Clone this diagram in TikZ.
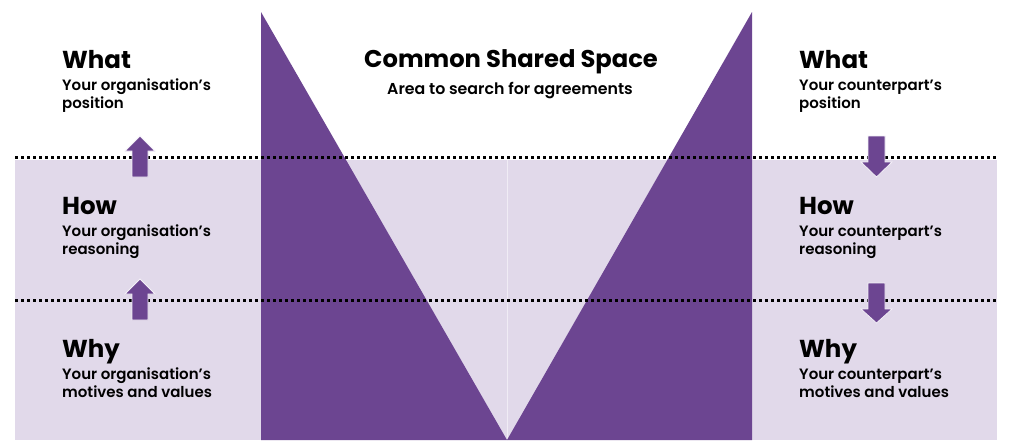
\documentclass[tikz,border=0pt]{standalone}
\usepackage{fontspec}
\setmainfont{Poppins}
\newfontfamily\subfont{Poppins SemiBold}
\definecolor{dpurple}{HTML}{6C4591}
\definecolor{lpurple}{HTML}{E1D9EA}
\begin{document}
\begin{tikzpicture}[x=1pt,y=-1pt,
  head/.style={anchor=base west,inner sep=0pt,font=\fontsize{24.5}{25}\selectfont\bfseries},
  sub/.style={anchor=base west,inner sep=0pt,font=\fontsize{15}{18}\subfont},
  dots/.style={line width=3pt,dash pattern=on 3pt off 3pt},
  blockarrow/.style={fill=dpurple,draw=lpurple!40!white,line width=0.8pt}]
\useasboundingbox (0,0) rectangle (1024,445);
\fill[white] (0,0) rectangle (1024,445);
\fill[lpurple] (15,160) rectangle (997,440);
\draw[white!50!lpurple, line width=0.6pt] (507,160) -- (507,440);
\fill[dpurple] (261,12) -- (261,440) -- (507,440) -- cycle;
\fill[dpurple] (752,12) -- (752,440) -- (507,440) -- cycle;
\draw[dots] (15,157) -- (997,157);
\draw[dots] (15,300) -- (997,300);
% left up arrows
\filldraw[blockarrow] (132,177) -- (132,151) -- (125,151) -- (140,136) -- (155,151) -- (148,151) -- (148,177) -- cycle;
\filldraw[blockarrow] (132,320) -- (132,294) -- (125,294) -- (140,279) -- (155,294) -- (148,294) -- (148,320) -- cycle;
% right down arrows
\filldraw[blockarrow] (868,136) -- (868,162) -- (861,162) -- (876.5,177) -- (892,162) -- (885,162) -- (885,136) -- cycle;
\filldraw[blockarrow] (868,283) -- (868,309) -- (861,309) -- (876.5,323) -- (892,309) -- (885,309) -- (885,283) -- cycle;
% centre
\node[anchor=base,inner sep=0pt,font=\fontsize{24.2}{25}\selectfont\bfseries] (title) at (511,67) {Common Shared Space};
\node[sub,anchor=base,font=\fontsize{15.8}{18}\subfont] (titlesub) at (510,94) {Area to search for agreements};
% left texts
\node[head] (lwhat) at (62,68) {What};
\node[sub] (lwhata) at (62,90) {Your organisation’s};
\node[sub] (lwhatb) at (62,108) {position};
\node[head] (lhow) at (62,214) {How};
\node[sub] (lhowa) at (62,236) {Your organisation’s};
\node[sub] (lhowb) at (62,254) {reasoning};
\node[head] (lwhy) at (62,357) {Why};
\node[sub] (lwhya) at (62,379) {Your organisation’s};
\node[sub] (lwhyb) at (62,397) {motives and values};
% right texts
\node[head] (rwhat) at (799,68) {What};
\node[sub] (rwhata) at (799,90) {Your counterpart’s};
\node[sub] (rwhatb) at (799,108) {position};
\node[head] (rhow) at (799,214) {How};
\node[sub] (rhowa) at (799,236) {Your counterpart’s};
\node[sub] (rhowb) at (799,254) {reasoning};
\node[head] (rwhy) at (799,357) {Why};
\node[sub] (rwhya) at (799,379) {Your counterpart’s};
\node[sub] (rwhyb) at (799,397) {motives and values};
\end{tikzpicture}
\end{document}
